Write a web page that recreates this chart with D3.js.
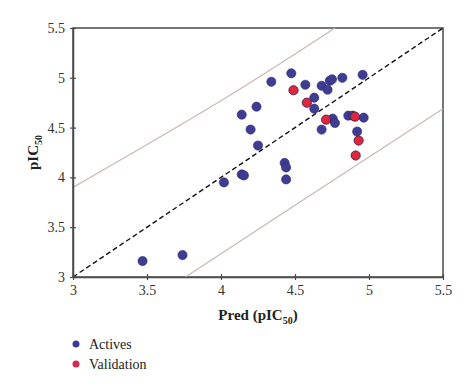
<!DOCTYPE html>
<html>
<head>
<meta charset="utf-8">
<script src="https://cdn.jsdelivr.net/npm/d3@7"></script>
<style>
  body { margin: 0; background: #fff; }
  text { font-family: "Liberation Serif", "DejaVu Serif", serif; }
</style>
</head>
<body>
<div id="chart"></div>
<script>
// data
var ticks = [3, 3.5, 4, 4.5, 5, 5.5];

var activesPred = [3.47, 3.74, 4.02, 4.14, 4.155, 4.14, 4.2, 4.24, 4.25, 4.34, 4.43, 4.44, 4.44, 4.475,
  4.57, 4.63, 4.63, 4.68, 4.68, 4.72, 4.735, 4.75, 4.755, 4.77, 4.82, 4.86, 4.89, 4.92, 4.957, 4.964];
var activesObs = [3.16, 3.22, 3.95, 4.03, 4.02, 4.63, 4.48, 4.71, 4.32, 4.96, 4.145, 4.10, 3.98, 5.045,
  4.93, 4.80, 4.69, 4.92, 4.48, 4.88, 4.97, 4.985, 4.59, 4.546, 5.0, 4.62, 4.62, 4.46, 5.03, 4.60];

var validPred = [4.49, 4.58, 4.71, 4.905, 4.93, 4.91];
var validObs = [4.875, 4.75, 4.58, 4.61, 4.37, 4.22];

// prediction band edges
var upperBand = [[3, 3.9], [4, 4.77], [4.77, 5.5]];
var lowerBand = [[3.76, 3], [4.5, 3.72], [5.5, 4.69]];

var svgWidth = 474, svgHeight = 391;
var margin = { top: 28, right: 31, bottom: 114, left: 73 };
var width = svgWidth - margin.left - margin.right;
var height = svgHeight - margin.top - margin.bottom;

var svg = d3.select("#chart").append("svg")
  .attr("width", svgWidth)
  .attr("height", svgHeight);

var chartGroup = svg.append("g")
  .attr("transform", `translate(${margin.left}, ${margin.top})`);

var x = d3.scaleLinear().domain([3, 5.5]).range([0, width]);
var y = d3.scaleLinear().domain([3, 5.5]).range([height, 0]);

var axisColor = "#4a4a4a";

// frame
chartGroup.append("rect")
  .attr("width", width)
  .attr("height", height)
  .attr("fill", "none")
  .attr("stroke", axisColor)
  .attr("stroke-width", 1.5);

// band lines
var line = d3.line().x(d => x(d[0])).y(d => y(d[1])).curve(d3.curveNatural);
[upperBand, lowerBand].forEach(function(b) {
  chartGroup.append("path")
    .attr("d", line(b))
    .attr("fill", "none")
    .attr("stroke", "#c9b8b4")
    .attr("stroke-width", 1.2);
});

// identity line
chartGroup.append("line")
  .attr("x1", x(3)).attr("y1", y(3))
  .attr("x2", x(5.5)).attr("y2", y(5.5))
  .attr("stroke", "#111")
  .attr("stroke-width", 1.4)
  .attr("stroke-dasharray", "5,3");

// axes
var bottomAxis = d3.axisBottom(x).tickValues(ticks).tickFormat(d3.format("")).tickSizeInner(3).tickSizeOuter(0).tickPadding(5);
var leftAxis = d3.axisLeft(y).tickValues(ticks).tickFormat(d3.format("")).tickSizeInner(3).tickSizeOuter(0).tickPadding(5);

var xAxis = chartGroup.append("g")
  .attr("transform", `translate(0, ${height})`)
  .call(bottomAxis);
var yAxis = chartGroup.append("g").call(leftAxis);

[xAxis, yAxis].forEach(function(a) {
  a.select(".domain").attr("stroke", axisColor).attr("stroke-width", 1.5);
  a.selectAll(".tick line").attr("stroke", axisColor).attr("stroke-width", 1.2);
  a.selectAll("text").attr("font-size", "14px").attr("fill", "#333");
});
// ticks cross the axis
xAxis.selectAll(".tick line").attr("y1", -3).attr("y2", 3);
yAxis.selectAll(".tick line").attr("x1", -3).attr("x2", 3);
xAxis.selectAll(".tick text").attr("y", 8);

// points
var actives = activesPred.map((p, i) => ({ p: p, o: activesObs[i] }));
var valid = validPred.map((p, i) => ({ p: p, o: validObs[i] }));

chartGroup.selectAll(".act")
  .data(actives)
  .enter()
  .append("circle")
  .attr("class", "act")
  .attr("cx", d => x(d.p))
  .attr("cy", d => y(d.o))
  .attr("r", 4.6)
  .attr("fill", "#3f3c94")
  .attr("stroke", "#2c2a70")
  .attr("stroke-width", 0.6);

chartGroup.selectAll(".val")
  .data(valid)
  .enter()
  .append("circle")
  .attr("class", "val")
  .attr("cx", d => x(d.p))
  .attr("cy", d => y(d.o))
  .attr("r", 4.6)
  .attr("fill", "#e0253f")
  .attr("stroke", "#4a2040")
  .attr("stroke-width", 0.9);

// axis labels
var xl = svg.append("text")
  .attr("x", margin.left + width / 2)
  .attr("y", 320)
  .attr("text-anchor", "middle")
  .attr("font-size", "15px")
  .attr("font-weight", "bold")
  .attr("fill", "#222");
xl.append("tspan").text("Pred (pIC");
xl.append("tspan").attr("font-size", "10px").attr("dy", 4).text("50");
xl.append("tspan").attr("dy", -4).text(")");

var yl = svg.append("text")
  .attr("transform", `translate(38, ${margin.top + height / 2}) rotate(-90)`)
  .attr("text-anchor", "middle")
  .attr("font-size", "15px")
  .attr("font-weight", "bold")
  .attr("fill", "#222");
yl.append("tspan").text("pIC");
yl.append("tspan").attr("font-size", "10px").attr("dy", 4).text("50");

// legend
var legend = [["Actives", "#3f3c94"], ["Validation", "#d42a50"]];
legend.forEach(function(l, i) {
  var g = svg.append("g").attr("transform", `translate(76, ${344 + i * 20})`);
  g.append("circle").attr("r", 3.5).attr("fill", l[1]);
  g.append("text").attr("x", 13).attr("y", 5)
    .attr("font-size", "14px").attr("fill", "#222").text(l[0]);
});
</script>
</body>
</html>
